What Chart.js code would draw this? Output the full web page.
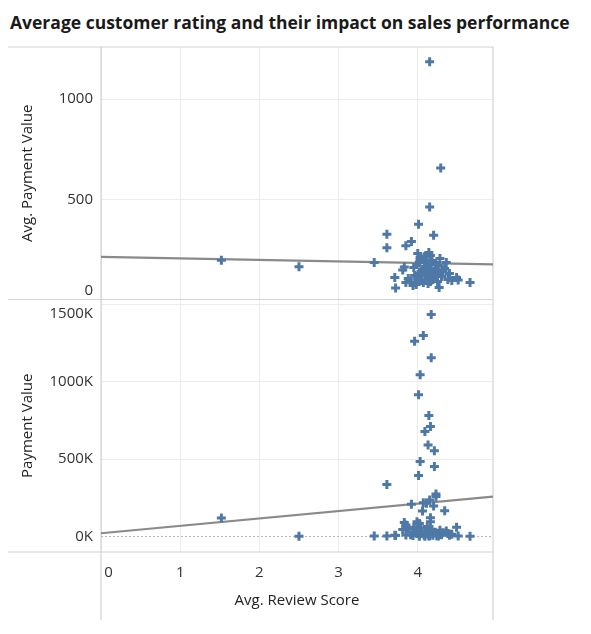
<!DOCTYPE html>
<html><head><meta charset="utf-8">
<script src="https://cdn.jsdelivr.net/npm/chart.js@4.4.1/dist/chart.umd.min.js"></script>
<style>
html,body{margin:0;padding:0;background:#fff;}
#wrap{position:relative;width:591px;height:634px;overflow:hidden;}
#title{position:absolute;left:10px;top:10px;font:bold 17.5px "Open Sans", sans-serif;color:#1a1a1a;white-space:nowrap;letter-spacing:0;}
canvas{position:absolute;left:0;top:0;}
</style></head><body>
<div id="wrap"><div id="title">Average customer rating and their impact on sales performance</div><canvas id="c" width="591" height="634"></canvas></div>
<script>
const reviewScore = [1.52,2.50,3.45,3.61,3.61,3.71,3.72,3.85,3.91,3.85,3.92,4.01,4.15,4.29,4.15,4.20,4.36,4.34,4.49,4.51,4.66,4.27,3.81,3.83,4.17,4.07,3.96,4.17,4.03,4.01,4.14,4.16,4.09,4.13,4.21,4.03,4.21,4.01,4.23,4.23,4.15,4.11,4.07,4.06,4.16,4.16,3.99,4.02,3.88,3.95,3.98,4.00,4.04,4.05,4.08,4.10,4.12,4.13,4.18,4.19,4.22,4.24,4.25,4.28,4.30,4.32,4.38,4.40,4.43,4.26,4.09,3.94,4.02,4.14];
const avgPayment = [196,163,185,325,258,110,58,85,88,268,290,375,1186,656,461,320,185,155,110,97,85,60,147,162,180,140,120,130,200,110,150,125,100,165,140,210,115,95,175,135,105,190,85,150,220,90,175,130,105,160,75,230,140,95,210,120,175,80,195,100,150,125,90,205,115,145,100,130,95,170,215,70,185,235];
const totalPayment = [120000,2000,3000,4000,336000,8000,6000,10000,12000,74000,208000,30000,5000,20000,40000,198000,35000,167000,60000,3000,2000,15000,45000,90000,1435000,1300000,1262000,1156000,1046000,916000,782000,711000,679000,591000,554000,485000,452000,394000,275000,258000,236000,215000,218000,165000,122000,96000,96000,85000,50000,60000,40000,20000,55000,25000,10000,35000,65000,15000,45000,8000,28000,5000,18000,40000,12000,25000,20000,8000,15000,3000,2000,6000,1000,4000];
const xTicks = [0,1,2,3,4];
const topTicks = [0,500,1000];
const bottomTicks = [0,500000,1000000,1500000];
const trendX = [0,4.95];
const trendAvg = [213,175];
const trendTotal = [21000,258000];
const zeroLine = [0,0];

const BLUE = '#4e79a7';
const FONT = '"Open Sans"';
Chart.defaults.font.family = FONT;
Chart.defaults.font.size = 15;
Chart.defaults.color = '#333';

const pts = (ys) => reviewScore.map((x,i)=>({x:x,y:ys[i]}));
const line = (ys) => trendX.map((x,i)=>({x:x,y:ys[i]}));

const borderPlugin = {
  id:'borders',
  beforeDatasetsDraw(chart){
    const c = chart.ctx, a = chart.chartArea;
    const yt = chart.scales.yTop;
    c.save();
    c.strokeStyle = '#d2d2d2'; c.lineWidth = 1.2;
    const hl = (y)=>{c.beginPath();c.moveTo(8,y);c.lineTo(a.right,y);c.stroke();};
    hl(a.top); hl(yt.bottom); hl(a.bottom);
    const vl = (x)=>{c.beginPath();c.moveTo(x,a.top);c.lineTo(x,620);c.stroke();};
    vl(a.left); vl(a.right);
    c.restore();
  }
};

new Chart(document.getElementById('c'), {
  type:'scatter',
  data:{datasets:[
    {data:pts(avgPayment), xAxisID:'x', yAxisID:'yTop', pointStyle:'cross', pointRadius:4.5, pointBorderWidth:3, borderColor:BLUE, backgroundColor:BLUE, order:1},
    {data:pts(totalPayment), xAxisID:'x', yAxisID:'yBot', pointStyle:'cross', pointRadius:4.5, pointBorderWidth:3, borderColor:BLUE, backgroundColor:BLUE, order:1},
    {type:'line', data:line(trendAvg), yAxisID:'yTop', borderColor:'#8a8a8a', borderWidth:2.2, pointRadius:0, order:2},
    {type:'line', data:line(trendTotal), yAxisID:'yBot', borderColor:'#8a8a8a', borderWidth:2.2, pointRadius:0, order:2},
    {type:'line', data:line(zeroLine), yAxisID:'yBot', borderColor:'#b8b8b8', borderWidth:1, borderDash:[2,2], pointRadius:0, order:3}
  ]},
  options:{
    responsive:false, animation:false, devicePixelRatio:1,
    layout:{padding:{top:47,right:98,bottom:14,left:0}},
    plugins:{legend:{display:false}, tooltip:{enabled:false}},
    scales:{
      x:{type:'linear', position:'bottom', min:0, max:4.95,
        afterBuildTicks:(s)=>{s.ticks = xTicks.map(v=>({value:v}));},
        afterFit:(s)=>{s.height = 68;},
        grid:{color:'#ececec', drawTicks:false},
        border:{display:false},
        ticks:{padding:12, maxRotation:0, autoSkip:false, color:'#333',
          callback:(v)=> v===0 ? '\u2002\u20020' : String(v)},
        title:{display:true, text:'Avg. Review Score', color:'#222', font:{size:15}, padding:{top:0,bottom:10}}
      },
      yBot:{type:'linear', position:'left', stack:'panels', stackWeight:1, min:-100000, max:1532000,
        afterBuildTicks:(s)=>{s.ticks = bottomTicks.map(v=>({value:v}));},
        afterFit:(s)=>{s.width = 101;},
        grid:{color:(ctx)=> (ctx.tick && ctx.tick.value===0) ? 'rgba(0,0,0,0)' : '#ececec', drawTicks:false},
        border:{display:false},
        ticks:{padding:8, color:'#333', callback:(v)=> v===1500000 ? ['', (v/1000)+'K'] : (v/1000)+'K'},
        title:{display:true, text:'Payment Value', color:'#222', font:{size:15}, padding:{top:19,bottom:0}}
      },
      yTop:{type:'linear', position:'left', stack:'panels', stackWeight:1, min:0, max:1260,
        afterBuildTicks:(s)=>{s.ticks = topTicks.map(v=>({value:v}));},
        afterFit:(s)=>{s.width = 101;},
        grid:{color:'#ececec', drawTicks:false},
        border:{display:false},
        ticks:{padding:8, color:'#333', callback:(v)=> v===0 ? ['0',''] : String(v)},
        title:{display:true, text:'Avg. Payment Value', color:'#222', font:{size:15}, padding:{top:19,bottom:0}}
      }
    }
  },
  plugins:[borderPlugin]
});
</script>
</body></html>
